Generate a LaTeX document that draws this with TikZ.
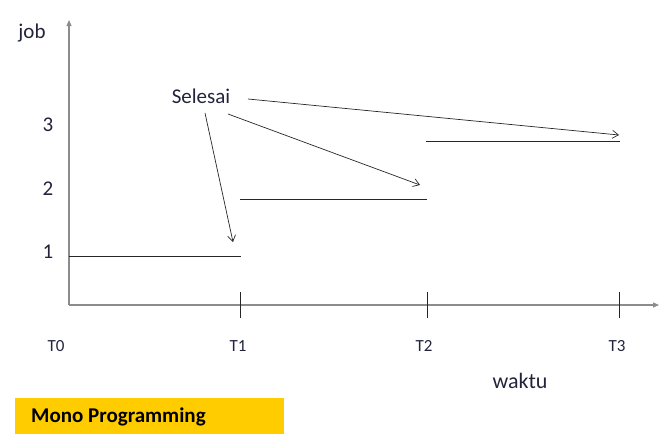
\documentclass[tikz,border=0pt]{standalone}
\usepackage{fontspec}
\setmainfont{Carlito}
\usetikzlibrary{arrows.meta}
\definecolor{txt}{RGB}{35,35,60}
\definecolor{axisgray}{RGB}{140,140,140}
\definecolor{yel}{RGB}{255,204,0}
\tikzset{
  axis/.style={draw=axisgray, line width=1.1pt, -{Triangle[length=6pt,width=5pt]}},
  jobline/.style={draw=black!85, line width=0.8pt},
  tick/.style={draw=black!85, line width=0.9pt},
  callout/.style={draw=black!85, line width=0.7pt, -{Straight Barb[length=6pt,width=8pt]}},
  lbl/.style={text=txt, inner sep=0pt, font=\fontsize{21}{23}\selectfont},
  tlbl/.style={text=txt, inner sep=0pt, font=\fontsize{17}{19}\selectfont},
}
\begin{document}
\begin{tikzpicture}[x=1pt,y=-1pt]
\useasboundingbox (0,0) rectangle (667,437);
% axes
\coordinate (O) at (69,305);
\coordinate (ytop) at (69,20);
\coordinate (xend) at (659,305);
\draw[axis] (O) -- (ytop);
\draw[axis] (O) -- (xend);
% ticks
\coordinate (t1a) at (240,292); \coordinate (t1b) at (240,318);
\coordinate (t2a) at (427,292); \coordinate (t2b) at (427,318);
\coordinate (t3a) at (619,292); \coordinate (t3b) at (619,318);
\draw[tick] (t1a) -- (t1b);
\draw[tick] (t2a) -- (t2b);
\draw[tick] (t3a) -- (t3b);
% job lines
\coordinate (j1a) at (69,256); \coordinate (j1b) at (241,256);
\coordinate (j2a) at (240,199); \coordinate (j2b) at (427,199);
\coordinate (j3a) at (426,141); \coordinate (j3b) at (620,141);
\draw[jobline] (j1a) -- (j1b);
\draw[jobline] (j2a) -- (j2b);
\draw[jobline] (j3a) -- (j3b);
% labels
\node[lbl] (job) at (32,33) {job};
\node[lbl] (y3) at (48,125) {3};
\node[lbl] (y2) at (48,189) {2};
\node[lbl] (y1) at (48,252) {1};
\node[tlbl] (T0) at (56,346) {T0};
\node[tlbl] (T1) at (238,346) {T1};
\node[tlbl] (T2) at (424,346) {T2};
\node[tlbl] (T3) at (617,346) {T3};
\node[lbl, font=\fontsize{22}{24}\selectfont] (waktu) at (520,381) {waktu};
\node[lbl] (sel) at (201,96) {Selesai};
% callouts
\coordinate (e1) at (233,242);
\coordinate (e2) at (420,185);
\coordinate (e3) at (619,135);
\coordinate (s1) at (205,113);
\coordinate (s2) at (228,114);
\coordinate (s3) at (248,99);
\draw[callout] (s1) -- (e1);
\draw[callout] (s2) -- (e2);
\draw[callout] (s3) -- (e3);
% title box
\node[fill=yel, minimum width=269pt, minimum height=36pt, inner sep=0pt, anchor=north west] (box) at (15,398) {};
\node[anchor=west, inner sep=0pt, text=black, font=\bfseries\fontsize{21}{23}\selectfont] (title) at (31,417) {Mono Programming};
\end{tikzpicture}
\end{document}
